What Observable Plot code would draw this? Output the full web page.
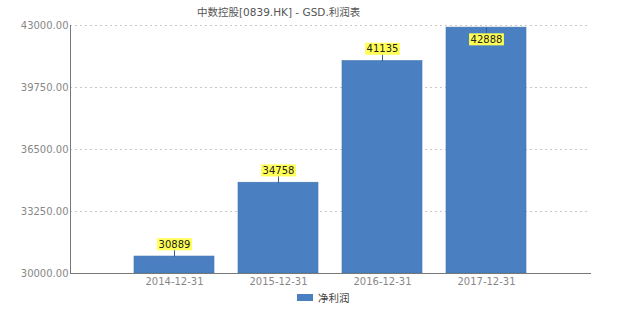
<!DOCTYPE html>
<html>
<head>
<meta charset="utf-8">
<script src="https://cdn.jsdelivr.net/npm/d3@7"></script>
<script src="https://cdn.jsdelivr.net/npm/@observablehq/plot@0.6"></script>
<style>
  html, body { margin: 0; padding: 0; background: #fff; }
  body { width: 640px; height: 317px; overflow: hidden; font-family: "DejaVu Sans", "Noto Sans CJK SC", sans-serif; }
  #title { height: 18px; line-height: 24px; font-size: 10.5px; color: #555; padding-left: 197px; font-family: "DejaVu Sans", "Noto Sans CJK SC", sans-serif; white-space: nowrap; }
  #legend { height: 15px; display: flex; align-items: center; justify-content: flex-start; padding-left: 297px; font-size: 10.5px; color: #444; font-family: "Noto Sans CJK SC", sans-serif; }
  #legend .sw { width: 16px; height: 7px; background: #4a80c1; margin-right: 5px; }
</style>
</head>
<body>
<div id="title"></div>
<div id="chart"></div>
<div id="legend"><span class="sw"></span><span id="legendText"></span></div>
<script>
const titleText = "中数控股[0839.HK] - GSD.利润表";
const seriesName = "净利润";
const categories = ["2014-12-31", "2015-12-31", "2016-12-31", "2017-12-31"];
const values = [30889, 34758, 41135, 42888];
const yTicks = [30000, 33250, 36500, 39750, 43000];

document.getElementById("title").textContent = titleText;
document.getElementById("legendText").textContent = seriesName;

const data = categories.map((c, i) => ({ date: c, value: values[i] }));
const yMin = yTicks[0], yMax = yTicks[yTicks.length - 1];
const inside = d => d.value > yMax - 1000;

const lineShape = { draw(context, l) { context.moveTo(0, 0); context.lineTo(0, -l); } };

const chart = Plot.plot({
  width: 640,
  height: 272,
  marginLeft: 70,
  marginRight: 50,
  marginTop: 7,
  marginBottom: 17,
  style: { fontFamily: "DejaVu Sans, sans-serif", fontSize: "10px", background: "#fff" },
  x: { domain: categories, paddingInner: 0.23, paddingOuter: 0.615, label: null },
  y: { domain: [yMin, yMax], label: null },
  marks: [
    Plot.ruleY(yTicks.slice(1), { stroke: "#c8c8c8", strokeDasharray: "2,3", strokeWidth: 1 }),
    Plot.barY(data, { x: "date", y1: yMin, y2: "value", fill: "#4a80c1", stroke: "#3f72ae", strokeWidth: 0.6 }),
    Plot.vector(data, { x: "date", y: "value", length: 7, rotate: d => inside(d) ? 180 : 0, anchor: "start", shape: lineShape, stroke: "#3a5f8f", strokeWidth: 1 }),
    Plot.text(data.filter(d => !inside(d)), { x: "date", y: "value", text: d => String(d.value), dy: -12, fill: "#222", fontSize: 10, className: "vlabel" }),
    Plot.text(data.filter(d => inside(d)), { x: "date", y: "value", text: d => String(d.value), dy: 12, fill: "#222", fontSize: 10, className: "vlabel" }),
    Plot.axisY({ ticks: yTicks, tickFormat: d3.format(".2f"), tickSize: 0, tickPadding: 2, fill: "#888", fontSize: 10 }),
    Plot.axisX({ tickSize: 0, tickPadding: 4, fill: "#888", fontSize: 10 }),
    Plot.frame({ anchor: "left", stroke: "#777" }),
    Plot.frame({ anchor: "bottom", stroke: "#777" })
  ]
});
document.getElementById("chart").appendChild(chart);

// yellow label boxes behind value texts
chart.querySelectorAll("g.vlabel text").forEach(t => {
  const b = t.getBBox();
  const r = document.createElementNS("http://www.w3.org/2000/svg", "rect");
  r.setAttribute("x", b.x - 1.5);
  r.setAttribute("y", b.y - 0.5);
  r.setAttribute("width", b.width + 3);
  r.setAttribute("height", b.height + 1);
  r.setAttribute("fill", "#ffff55");
  const tr = t.getAttribute("transform");
  if (tr) r.setAttribute("transform", tr);
  t.parentNode.insertBefore(r, t);
});
</script>
</body>
</html>
